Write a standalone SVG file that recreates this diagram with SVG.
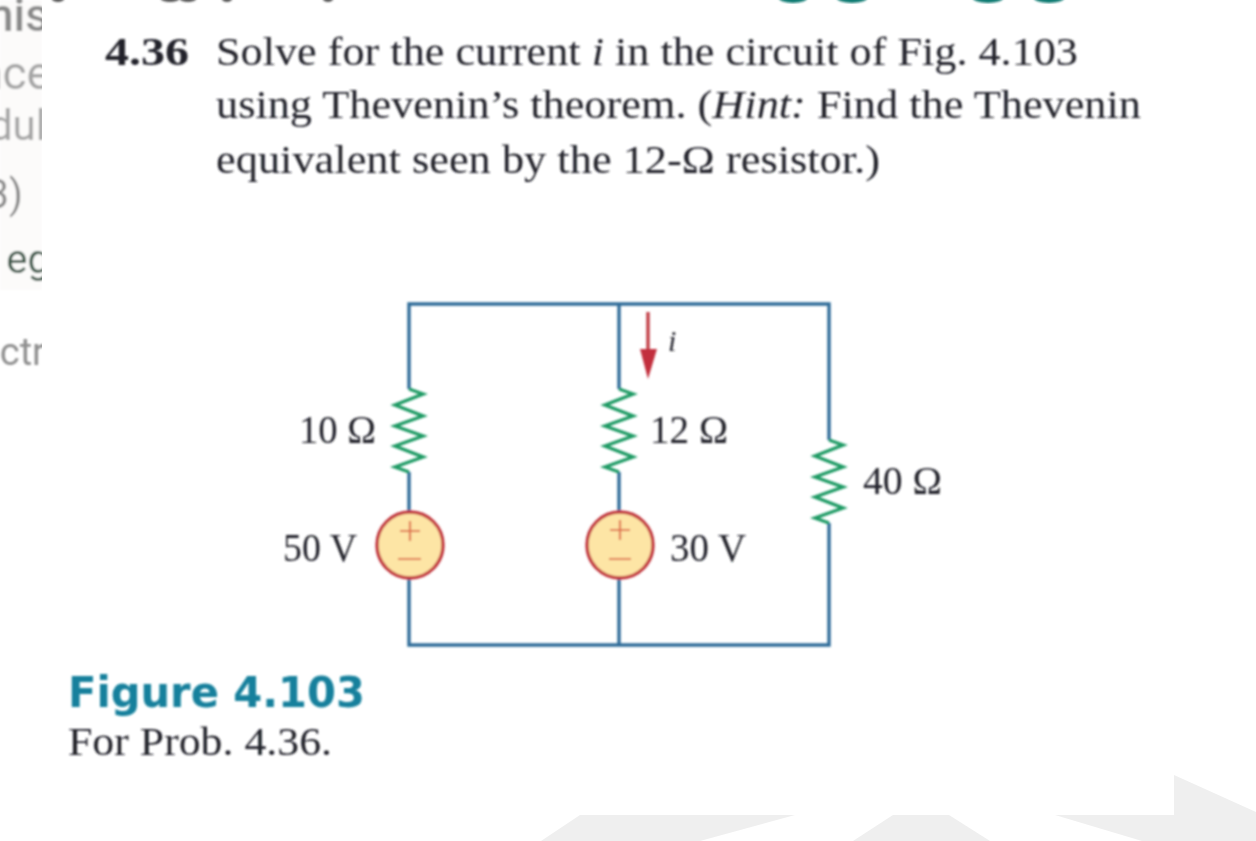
<svg xmlns="http://www.w3.org/2000/svg" width="1256" height="841" viewBox="0 0 1256 841">
<style>
.t{font-family:"Liberation Serif","Times New Roman",serif;fill:#23242c}
.s{font-size:41px}
.l{font-size:40px}
.ui{font-family:"Roboto","Open Sans",sans-serif}
.w{fill:none;stroke:#2f6c99;stroke-width:3.4}
.r{fill:none;stroke:#1c9a63;stroke-width:3.4;stroke-linejoin:miter}
.v{fill:#fde5a5;stroke:#c2393f;stroke-width:3.4}
.sg{fill:none;stroke:#e0754f;stroke-width:2.2}
</style>
<defs>
<filter id="b" x="-5%" y="-5%" width="110%" height="110%"><feGaussianBlur stdDeviation="0.8"/></filter>
<clipPath id="side"><rect x="0" y="0" width="42" height="400"/></clipPath>
<polyline id="z" class="r" points="0,0 14,5 -14,16 14,27 -14,37 14,47 -14,57 14,68 -14,78 0,83"/>
</defs>
<rect width="1256" height="841" fill="#fff"/>
<g id="background" fill="#efefef">
<polygon points="541,841 580,815 795,815 700,841"/>
<polygon points="853,841 893,815 949,815 990,841"/>
<polygon points="1055,815 1174,815 1174,775 1256,812 1256,841 1142,841"/>
</g>
<g id="sidebar" clip-path="url(#side)" filter="url(#b)">
<rect x="0" y="0" width="42" height="290" fill="#fcfbfa"/>
<text class="ui" x="49" y="31" text-anchor="end" font-size="46" font-weight="500" fill="#8a8a8a">nis</text>
<text class="ui" x="51" y="89" text-anchor="end" font-size="46" fill="#a5a5a5">nce</text>
<text class="ui" x="46" y="140" text-anchor="end" font-size="42" fill="#a5a5a5">dul</text>
<text class="ui" x="23" y="208" text-anchor="end" font-size="40" fill="#8a8a8a">3)</text>
<text class="ui" x="50" y="273" text-anchor="end" font-size="40" fill="#3f5a4c">eg</text>
<text class="ui" x="45" y="365" text-anchor="end" font-size="38" fill="#8f8f8f">ctr</text>
</g>
<g id="top-fragments" filter="url(#b)">
<g fill="#0e7a72">
<ellipse cx="793" cy="-2" rx="14" ry="5"/>
<ellipse cx="852" cy="-2" rx="15" ry="5"/>
<ellipse cx="988" cy="-2" rx="15" ry="5"/>
<ellipse cx="1049" cy="-2" rx="15" ry="5"/>
</g>
<g fill="#555">
<ellipse cx="58" cy="-1" rx="6" ry="3"/>
<ellipse cx="170" cy="-1" rx="9" ry="3"/>
<ellipse cx="188" cy="-1" rx="8" ry="3"/>
<ellipse cx="227" cy="-1" rx="5" ry="3"/>
<ellipse cx="328" cy="-1" rx="5" ry="3"/>
</g>
</g>
<g id="problem" filter="url(#b)">
<text class="t s" x="105" y="65" font-weight="700" textLength="84" lengthAdjust="spacingAndGlyphs">4.36</text>
<text class="t s" x="216" y="65" textLength="862" lengthAdjust="spacingAndGlyphs">Solve for the current <tspan font-style="italic">i</tspan> in the circuit of Fig. 4.103</text>
<text class="t s" x="216" y="118" textLength="925" lengthAdjust="spacingAndGlyphs">using Thevenin’s theorem. (<tspan font-style="italic">Hint:</tspan> Find the Thevenin</text>
<text class="t s" x="216" y="173" textLength="664" lengthAdjust="spacingAndGlyphs">equivalent seen by the 12-Ω resistor.)</text>
</g>
<g filter="url(#b)">
<g id="connectors">
<path class="w" d="M409 389V304H829V440M829 523V645H409V578M409 512V472"/>
<path class="w" d="M619 304V389M619 472V512M619 578V645"/>
</g>
<g id="R1"><use href="#z" x="409" y="389"/><text class="t l" x="299" y="443" textLength="77" lengthAdjust="spacingAndGlyphs">10 Ω</text></g>
<g id="R2"><use href="#z" x="619" y="389"/><text class="t l" x="650" y="443" textLength="78" lengthAdjust="spacingAndGlyphs">12 Ω</text></g>
<g id="R3"><use href="#z" x="829" y="440"/><text class="t l" x="863" y="494" textLength="79" lengthAdjust="spacingAndGlyphs">40 Ω</text></g>
<g id="V1"><circle class="v" cx="410" cy="545" r="33"/><path class="sg" d="M400 531H420M410 521V541M398 559H421"/><text class="t l" x="283" y="561" textLength="74" lengthAdjust="spacingAndGlyphs">50 V</text></g>
<g id="V2"><circle class="v" cx="620" cy="545" r="33"/><path class="sg" d="M610 530H630M620 520V540M609 559H631"/><text class="t l" x="670" y="561" textLength="76" lengthAdjust="spacingAndGlyphs">30 V</text></g>
<g id="current"><path d="M648 312V352" fill="none" stroke="#c2404a" stroke-width="3.5"/><path d="M640 349H657L648 379Z" fill="#c22f3c"/><text class="t" x="668" y="351" font-size="30" font-style="italic">i</text></g>
</g>
<g id="caption" filter="url(#b)">
<text x="68" y="707" font-family="'DejaVu Sans',sans-serif" font-weight="700" font-size="42" fill="#12809c" textLength="297" lengthAdjust="spacingAndGlyphs">Figure 4.103</text>
<text class="t" x="68" y="755" font-size="40" textLength="264" lengthAdjust="spacingAndGlyphs">For Prob. 4.36.</text>
</g>
</svg>
